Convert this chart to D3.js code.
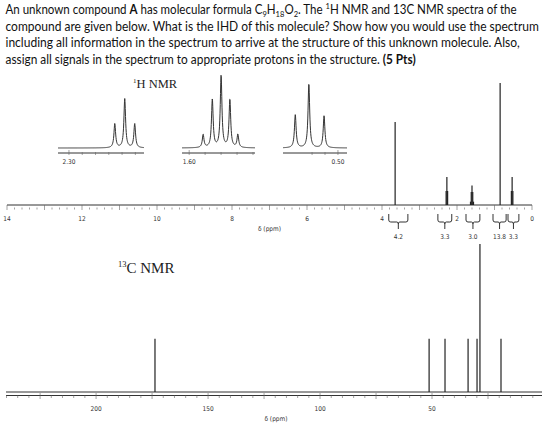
<!DOCTYPE html>
<html lang="en">
<head>
<meta charset="UTF-8">
<title>NMR spectra of compound A</title>
<script src="https://d3js.org/d3.v7.min.js"></script>
<style>
    body { margin: 0; background: #fff; }
    svg { display: block; }
    .title { font-family: Lato, "Open Sans", sans-serif; font-size: 13px; fill: #111; }
    .nmr-label { font-family: "Liberation Serif", "DejaVu Serif", serif; fill: #222; }
    .small { font-family: "DejaVu Sans Condensed", "DejaVu Sans", sans-serif; font-size: 6.5px; fill: #333; }
    .axis-line { stroke: #333; stroke-width: 1; fill: none; }
    .tick { stroke: #666; stroke-width: 0.6; }
    .peak { stroke: #222; stroke-width: 1.2; }
    .trace { stroke: #333; stroke-width: 1; fill: none; }
</style>
</head>
<body>
<svg id="chart" width="548" height="425"></svg>
<script>
// question text, one array of segments per line
var titleLines = [
    [["An unknown compound "], ["A", "b"], [" has molecular formula C"], ["9", "sub"], ["H"], ["18", "sub"], ["O"], ["2", "sub"],
     [". The "], ["1", "sup"], ["H NMR and 13C NMR spectra of the"]],
    [["compound are given below. What is the IHD of this molecule? Show how you would use the spectrum"]],
    [["including all information in the spectrum to arrive at the structure of this unknown molecule. Also,"]],
    [["assign all signals in the spectrum to appropriate protons in the structure. "], ["(5 Pts)", "b"]]
];

// 1H spectrum: shift (ppm), relative height, multiplet line ratios
var hShift = [3.65, 2.27, 1.60, 0.85, 0.53];
var hHeight = [68, 23, 16, 100, 23];
var hMult = [[1], [0.5, 1, 0.5], [0.17, 0.67, 1, 0.67, 0.17], [1], [0.5, 1, 0.5]];
var hTicks = [14, 12, 10, 8, 6, 4, 2, 0];

// integrals (ppm range) and values
var intFrom = [3.82, 2.51, 1.76, 1.04, 0.64];
var intTo = [3.31, 2.14, 1.39, 0.69, 0.35];
var intLabel = ["4.2", "3.3", "3.0", "13.8", "3.3"];

// expansions of the 1H multiplets
var insetLabel = ["2.30", "1.60", "0.50"];
var insetTick = [2.30, 1.60, 0.50];
var insetShift = [[2.231, 2.216, 2.201], [1.5825, 1.571, 1.56, 1.549, 1.539], [0.566, 0.545, 0.5215]];
var insetHeight = [[24, 49, 24], [13, 48, 72, 48, 13], [33, 64, 32]];

// 13C spectrum
var cShift = [173.7, 51.3, 44.2, 33.9, 29.9, 28.6, 19.2];
var cHeight = [36, 36, 36, 36, 36, 100, 36];
var cTicks = [200, 150, 100, 50];

var svg = d3.select("#chart");

// ---- question text (full lines squeezed to the width they have in the original)
var titleWidths = [512, 534, 515];
var titleNodes = [], scales = [];
titleLines.forEach(function (segs, i) {
    var t = svg.append("text")
        .attr("class", "title")
        .attr("x", 0)
        .attr("y", 0);
    var shift = 0;
    segs.forEach(function (s) {
        var sp = t.append("tspan").text(s[0]);
        var want = s[1] == "sub" ? 3 : s[1] == "sup" ? -5 : 0;
        if (want != shift) { sp.attr("dy", want - shift); shift = want; }
        if (s[1] == "sub" || s[1] == "sup") sp.attr("font-size", 8.5);
        if (s[1] == "b") sp.attr("font-weight", "bold");
    });
    titleNodes.push(t);
    if (i < titleWidths.length) scales.push(titleWidths[i] / t.node().getBBox().width);
});
var meanScale = d3.mean(scales);
titleNodes.forEach(function (t, i) {
    var sx = i < scales.length ? scales[i] : meanScale;
    t.attr("transform", "translate(5.5," + (14 + i * 16.5) + ") scale(" + sx + ",1)");
});

// ---- 1H main spectrum
var xH = d3.scaleLinear().domain([14, 0]).range([7, 532]);
var yH = d3.scaleLinear().domain([0, 100]).range([205, 83]);

svg.append("line").attr("class", "axis-line").attr("stroke-width", 0.9)
    .attr("x1", xH(14)).attr("x2", xH(0)).attr("y1", 205).attr("y2", 205);
svg.append("g").selectAll("line")
    .data(d3.range(0, 70.5).map(function (i) { return i / 5; }))
    .enter().append("line")
    .attr("class", "tick")
    .attr("x1", function (d) { return xH(d); }).attr("x2", function (d) { return xH(d); })
    .attr("y1", function (d) { return Math.abs(d - Math.round(d)) < 1e-6 ? 205 : 207.5; })
    .attr("y2", function (d) { return Math.abs(d - Math.round(d)) < 1e-6 ? 210 : 209.5; });
svg.append("g").selectAll("text")
    .data(hTicks).enter().append("text")
    .attr("class", "small")
    .attr("x", function (d) { return xH(d); }).attr("y", 220.5)
    .attr("text-anchor", "middle")
    .text(function (d) { return d; });
svg.append("text").attr("class", "small")
    .attr("x", xH(7)).attr("y", 231).attr("text-anchor", "middle").text("δ (ppm)");

hShift.forEach(function (p, i) {
    var m = hMult[i];
    svg.append("g").selectAll("line")
        .data(m).enter().append("line")
        .attr("class", "peak")
        .attr("x1", function (r, j) { return xH(p + (j - (m.length - 1) / 2) * 0.02); })
        .attr("x2", function (r, j) { return xH(p + (j - (m.length - 1) / 2) * 0.02); })
        .attr("y1", 205)
        .attr("y2", function (r) { return yH(hHeight[i] * r); });
});

// integral brackets
intLabel.forEach(function (lab, i) {
    var a = xH(intFrom[i]), b = xH(intTo[i]), c = (a + b) / 2;
    var d = "M" + a + ",214 V220 Q" + a + ",222 " + (a + 2) + ",222 H" + (c - 1.5) +
        " Q" + c + ",222 " + c + ",224 Q" + c + ",222 " + (c + 1.5) + ",222 H" + (b - 2) +
        " Q" + b + ",222 " + b + ",220 V214 M" + c + ",224 V229";
    svg.append("path").attr("class", "axis-line").attr("stroke-width", 0.7).attr("d", d);
    svg.append("text").attr("class", "small").attr("font-size", 6.2)
        .attr("x", c).attr("y", 239).attr("text-anchor", "middle").text(lab);
});

// ---- expansions
var insetDomain = [[2.3165, 2.187], [1.609, 1.5175], [0.585, 0.486]];
var insetRange = [[58, 144], [182, 255], [283, 347]];
var yIn = d3.scaleLinear().domain([0, 100]).range([148, 48]);

insetLabel.forEach(function (lab, k) {
    var x = d3.scaleLinear().domain(insetDomain[k]).range(insetRange[k]);
    var pts = d3.range(insetRange[k][0], insetRange[k][1] + 0.01, 0.25).map(function (px) {
        var h = 0;
        insetShift[k].forEach(function (s, j) {
            var dx = (px - x(s)) / 1.0;
            h += insetHeight[k][j] / (1 + dx * dx);
        });
        return [px, yIn(h)];
    });
    svg.append("path").attr("class", "trace").attr("stroke-width", 0.9)
        .attr("d", d3.line()(pts));
    svg.append("line").attr("class", "axis-line").attr("stroke-width", 0.8)
        .attr("x1", insetRange[k][0]).attr("x2", insetRange[k][1]).attr("y1", 153).attr("y2", 153);
    var ticks = d3.range(0, 8).map(function (i) { return insetTick[k] - i * 0.02; })
        .concat(d3.range(1, 3).map(function (i) { return insetTick[k] + i * 0.02; }))
        .filter(function (t) { return x(t) >= insetRange[k][0] && x(t) <= insetRange[k][1]; });
    svg.append("g").selectAll("line").data(ticks).enter().append("line")
        .attr("class", "tick")
        .attr("x1", function (t) { return x(t); }).attr("x2", function (t) { return x(t); })
        .attr("y1", function (t) { return t == insetTick[k] ? 150 : 152; })
        .attr("y2", 155);
    svg.append("text").attr("class", "small").attr("font-size", 6)
        .attr("x", x(insetTick[k])).attr("y", 163.5).attr("text-anchor", "middle").text(lab);
});

// 1H label
var hl = svg.append("text").attr("class", "nmr-label").attr("x", 133).attr("y", 87.5).attr("font-size", 12.5);
hl.append("tspan").attr("font-size", 7).attr("dy", -5).text("1");
hl.append("tspan").attr("dy", 5).text("H NMR");

// ---- 13C spectrum
var xC = d3.scaleLinear().domain([240, 0]).range([6.5, 544]);
var yC = d3.scaleLinear().domain([0, 100]).range([392, 244]);

svg.append("line").attr("class", "axis-line").attr("stroke-width", 0.9)
    .attr("x1", 6).attr("x2", 542).attr("y1", 392).attr("y2", 392);
svg.append("line").attr("class", "axis-line").attr("stroke-width", 0.8)
    .attr("x1", 6).attr("x2", 542).attr("y1", 395.5).attr("y2", 395.5);
svg.append("g").selectAll("line")
    .data(d3.range(5, 241, 5)).enter().append("line")
    .attr("class", "tick")
    .attr("x1", function (d) { return xC(d); }).attr("x2", function (d) { return xC(d); })
    .attr("y1", function (d) { return d % 25 == 0 ? 393 : 395.5; })
    .attr("y2", function (d) { return d % 25 == 0 ? 399 : 398; });
svg.append("g").selectAll("text")
    .data(cTicks).enter().append("text")
    .attr("class", "small").attr("font-size", 7.5)
    .attr("x", function (d) { return xC(d); }).attr("y", 411)
    .attr("text-anchor", "middle")
    .text(function (d) { return d; });
svg.append("text").attr("class", "small").attr("font-size", 7.5)
    .attr("x", 276).attr("y", 421).attr("text-anchor", "middle").text("δ (ppm)");

svg.append("g").selectAll("line")
    .data(cShift).enter().append("line")
    .attr("class", "peak")
    .attr("x1", function (d) { return xC(d); }).attr("x2", function (d) { return xC(d); })
    .attr("y1", 392)
    .attr("y2", function (d, i) { return yC(cHeight[i]); });

var cl = svg.append("text").attr("class", "nmr-label").attr("x", 118).attr("y", 273).attr("font-size", 15);
cl.append("tspan").attr("font-size", 8.5).attr("dy", -6).text("13");
cl.append("tspan").attr("dy", 6).text("C NMR");
</script>
</body>
</html>
